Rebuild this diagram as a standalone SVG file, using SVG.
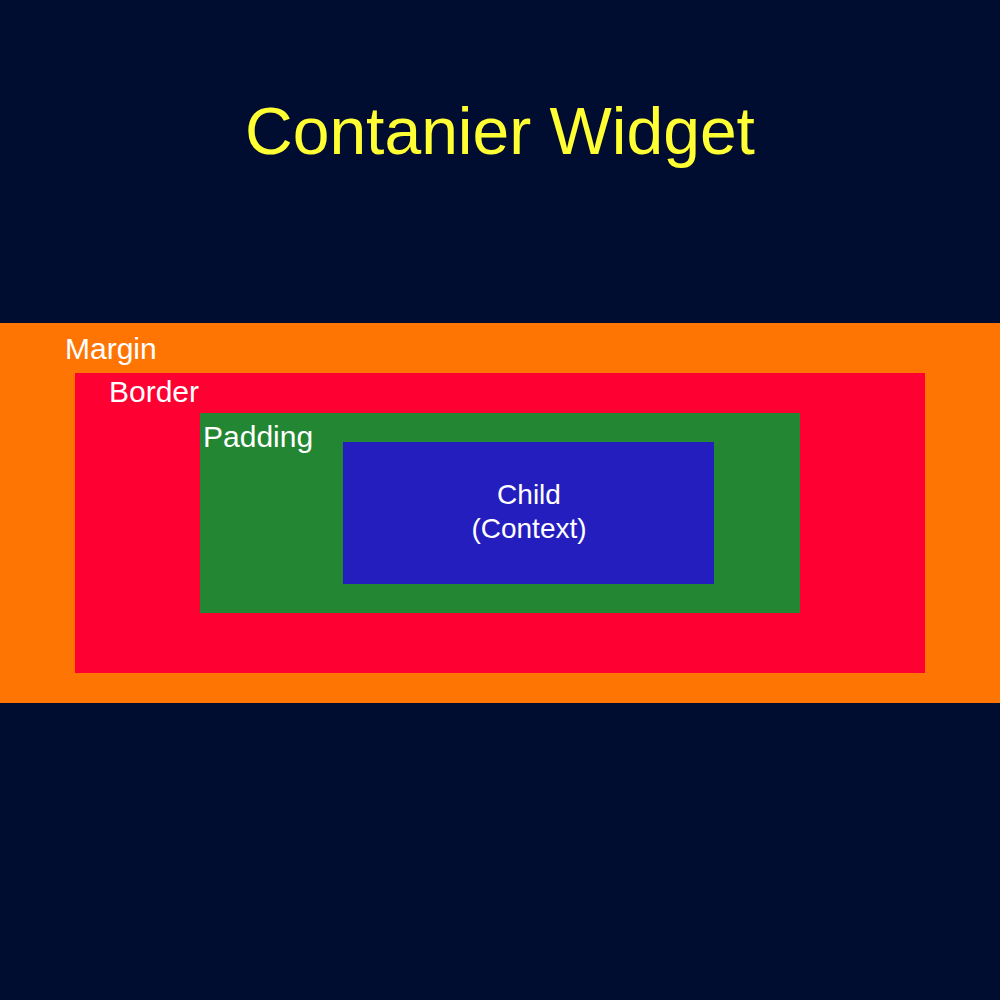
<svg xmlns="http://www.w3.org/2000/svg" width="1000" height="1000" viewBox="0 0 1000 1000">
<style>text{font-family:"Liberation Sans",Arial,sans-serif;fill:#fff;font-size:30px}</style>
<rect width="1000" height="1000" fill="#000c30"/>
<text x="500" y="154" text-anchor="middle" style="font-size:66px;fill:#ffff33">Contanier Widget</text>
<g id="margin"><rect x="0" y="323" width="1000" height="380" fill="#ff7504"/><text x="65" y="359">Margin</text></g>
<g id="border"><rect x="75" y="373" width="850" height="300" fill="#ff0033"/><text x="109" y="402">Border</text></g>
<g id="padding"><rect x="200" y="413" width="600" height="200" fill="#238632"/><text x="203" y="447">Padding</text></g>
<g id="child"><rect x="343" y="442" width="371" height="142" fill="#251ebf"/><text x="529" y="504" text-anchor="middle" style="font-size:28px">Child</text><text x="529" y="538" text-anchor="middle" style="font-size:28px">(Context)</text></g>
<g id="connectors"/>
</svg>
